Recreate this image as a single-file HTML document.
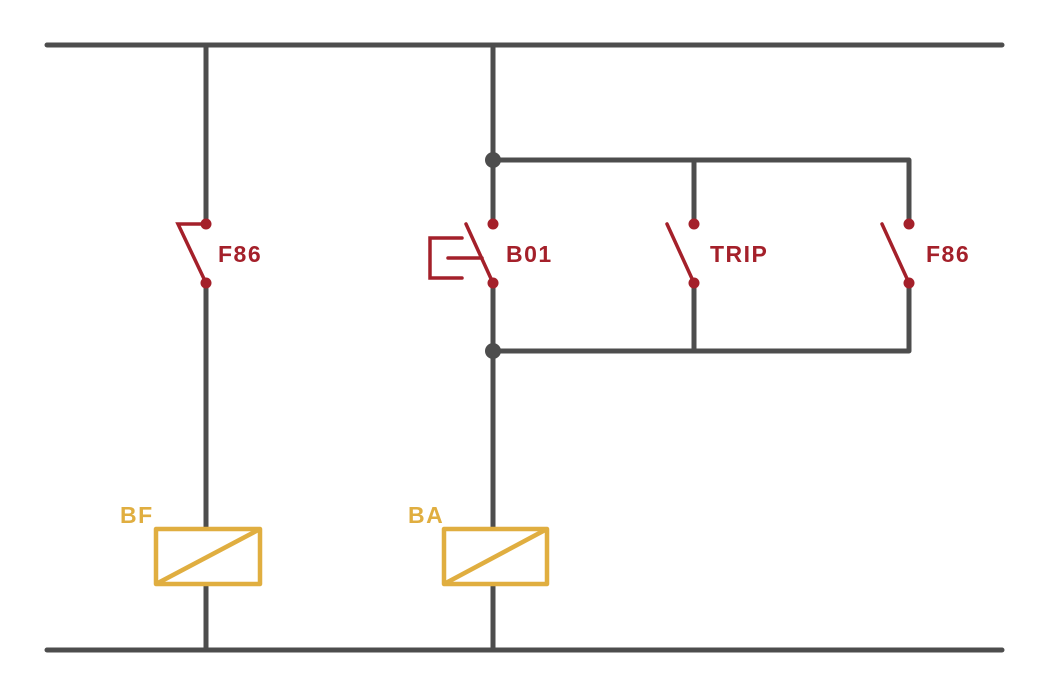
<!DOCTYPE html>
<html><head><meta charset="utf-8"><style>
html,body{margin:0;padding:0;background:#fff;}
svg{display:block;}
text{font-family:"Liberation Sans",sans-serif;font-weight:bold;font-size:23px;letter-spacing:1.5px;}
</style></head><body>
<svg width="1051" height="697" viewBox="0 0 1051 697" xmlns="http://www.w3.org/2000/svg">
<g stroke="#4d4d4d" stroke-width="5" fill="none" stroke-linecap="round" stroke-linejoin="round">
<line x1="47" y1="45" x2="1002" y2="45"/>
<line x1="47" y1="650" x2="1002" y2="650"/>
<line x1="206" y1="45" x2="206" y2="224"/>
<line x1="206" y1="283" x2="206" y2="650"/>
<line x1="493" y1="45" x2="493" y2="224"/>
<line x1="493" y1="283" x2="493" y2="650"/>
<polyline points="493,160 909,160 909,224"/>
<line x1="694" y1="160" x2="694" y2="224"/>
<polyline points="493,351 909,351 909,283"/>
<line x1="694" y1="283" x2="694" y2="351"/>
</g>
<circle cx="493" cy="160" r="8" fill="#4d4d4d"/>
<circle cx="493" cy="351" r="8" fill="#4d4d4d"/>
<g stroke="#e0ae40" stroke-width="4.5" fill="#fff" stroke-linejoin="round">
<rect x="156" y="529" width="104" height="55"/>
<line x1="156" y1="584" x2="260" y2="529"/>
<rect x="444" y="529" width="103" height="55"/>
<line x1="444" y1="584" x2="547" y2="529"/>
</g>
<g stroke="#a4202a" stroke-width="3.5" fill="none" stroke-linecap="round">
<polyline points="206,283 178,224 206,224"/>
<line x1="466" y1="224" x2="493" y2="283"/>
<polyline points="462,238 430,238 430,278 462,278"/>
<line x1="448" y1="258" x2="482" y2="258"/>
<line x1="667" y1="224" x2="694" y2="283"/>
<line x1="882" y1="224" x2="909" y2="283"/>
</g>
<g fill="#a4202a">
<circle cx="206" cy="224" r="5.5"/><circle cx="206" cy="283" r="5.5"/>
<circle cx="493" cy="224" r="5.5"/><circle cx="493" cy="283" r="5.5"/>
<circle cx="694" cy="224" r="5.5"/><circle cx="694" cy="283" r="5.5"/>
<circle cx="909" cy="224" r="5.5"/><circle cx="909" cy="283" r="5.5"/>
<text x="218" y="262">F86</text>
<text x="506" y="262">B01</text>
<text x="710" y="262">TRIP</text>
<text x="926" y="262">F86</text>
</g>
<g fill="#e0ae40">
<text x="120" y="523">BF</text>
<text x="408" y="523">BA</text>
</g>
</svg>
</body></html>
